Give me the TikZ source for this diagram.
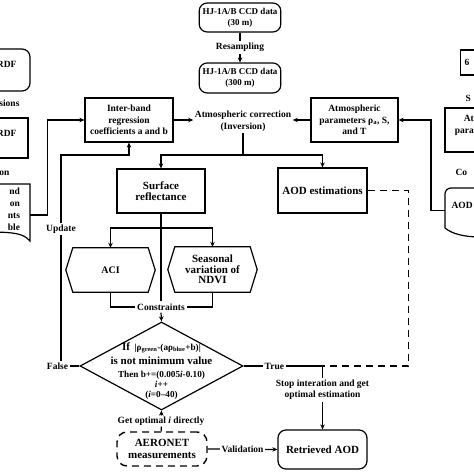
\documentclass[tikz,border=0pt]{standalone}
\usepackage{fontspec}
\setmainfont{Liberation Serif}
\usetikzlibrary{arrows.meta,shapes.geometric}

\tikzset{
  box/.style={draw, line width=1.2pt, align=center, minimum height=44pt},
  rbox/.style={box, rounded corners=8pt},
  big/.style={font=\bfseries\fontsize{11}{11.5}\selectfont},
  lbl/.style={fill=white, inner sep=2pt},
  flow/.style={line width=1.2pt, -{Stealth[length=5pt,width=4.5pt]}},
  plain/.style={line width=1.2pt},
  dashline/.style={line width=1.4pt, dash pattern=on 7pt off 5pt},
}
\newcommand\hexline[1]{\draw[plain] ([xshift=7pt]#1.north west) -- ([xshift=-7pt]#1.north east) -- (#1.east) -- ([xshift=-7pt]#1.south east) -- ([xshift=7pt]#1.south west) -- (#1.west) -- cycle;}

\begin{document}
\begin{tikzpicture}[x=1pt, y=-1pt, font=\bfseries\fontsize{9.5}{11.5}\selectfont]
\useasboundingbox (0,0) rectangle (474,474);
\clip (0,0) rectangle (474,474);

% Main column
\node[rbox, minimum width=79pt, minimum height=29pt, font=\bfseries\fontsize{9}{11}\selectfont] (hj30) at (240,17.5) {HJ-1A/B CCD data\\(30 m)};
\node[rbox, minimum width=79pt, minimum height=30pt, font=\bfseries\fontsize{9}{11}\selectfont] (hj300) at (240,78) {HJ-1A/B CCD data\\(300 m)};
\node[align=center, inner sep=1.5pt, font=\bfseries\fontsize{9.5}{12}\selectfont] (atmcorr) at (243,121) {Atmospheric correction\\(Inversion)};
\node[box, minimum width=88pt] (interband) at (129,120) {Inter-band\\regression\\coefficients a and b};
\node[box, minimum width=87pt] (atmpar) at (354.5,120) {Atmospheric\\parameters ρ\textsubscript{a}, S,\\and T};
\node[box, big, minimum width=88pt] (surf) at (161,191) {Surface\\reflectance};
\node[box, big, minimum width=89pt, minimum height=45pt] (aodest) at (322.5,190.5) {AOD estimations};

% Constraints
\node[minimum width=89pt, minimum height=44pt, font=\bfseries\fontsize{10}{11}\selectfont] (aci) at (110.5,270) {ACI};
\hexline{aci}
\node[big, align=center, minimum width=89pt, minimum height=45pt, font=\bfseries\fontsize{11}{10.5}\selectfont] (ndvi) at (212.5,269.5) {Seasonal\\variation of\\NDVI};
\hexline{ndvi}
\node[lbl] (constr) at (161,307) {Constraints};

% Decision
\node[diamond, draw, line width=1.2pt, minimum width=163pt, minimum height=88pt, inner sep=0pt] (dia) at (161.5,366) {};
\node[align=center, font=\bfseries\fontsize{9.2}{10}\selectfont] (diatxt) at (161.5,371)
  {{\fontsize{11}{11}\selectfont If}\ \ |ρ\textsubscript{green}-(aρ\textsubscript{blue}+b)|\\[3pt]
   {\fontsize{11}{11}\selectfont is not minimum value}\\[3pt]
   Then b+=(0.005\textit{i}-0.10)\\
   \textit{i}++\\
   (\textit{i}=0–40)};
\node[inner sep=1pt] (getopt) at (161,421) {Get optimal \textit{i} directly};
\node[rbox, dashline, big, minimum width=90pt, minimum height=34pt, rounded corners=10pt] (aeronet) at (162,449) {AERONET\\measurements};
\node[rbox, big, minimum width=89pt, minimum height=39pt] (retaod) at (322.5,449.5) {Retrieved AOD};

% Left side (cut off)
\node[rbox, minimum width=100pt, minimum height=42pt] (brdf) at (-20,70) {};
\node[anchor=east] (brdftxt) at (20,64) {RDF};
\node[anchor=east] (exttxt) at (23,103) {sions};
\node[box, minimum width=100pt, minimum height=40pt] (brdfb) at (-22,138) {};
\node[anchor=east] (brdfbtxt) at (20,133) {RDF};
\node[anchor=east] (luttxt) at (13,173) {on};
\node[align=right, text width=80pt, minimum width=100pt, minimum height=50pt, font=\bfseries\fontsize{9.5}{12}\selectfont] (lut) at (-20,209) {nd\\on\\nts\\ble};
\draw[plain] (-70,184) -- (30,184) -- (30,241) .. controls (22,232) and (10,229) .. (-70,236);

% Right side (cut off)
\node[box, minimum width=100pt, minimum height=25pt, anchor=west] (sixs) at (460,62.5) {};
\node[anchor=west] (sixstxt) at (461,62.5) {6};
\node[anchor=west] (stxt) at (462,98) {S};
\node[box, minimum width=90pt] (atmparb) at (490,130) {Atmospheric\\parameters ρ\textsubscript{a}, S,\\and T};
\node[anchor=west] (cotxt) at (452,172) {Co};
\node[minimum width=110pt, minimum height=40pt, anchor=north west, inner sep=0pt] (aodlut) at (445,188) {};
\node[anchor=west] (aodtxt) at (448,205) {AOD};
\draw[plain, rounded corners=6pt] (445,228) -- (445,188) -- (560,188);
\draw[plain] (445,228) .. controls (452,234) and (465,237) .. (480,237);

% Connectors
\draw[flow] (hj30) -- node[lbl]{Resampling} (hj300);
\draw[flow] (interband.east) -- (interband.east -| atmcorr.west);
\draw[flow] (atmpar.west) -- (atmpar.west -| atmcorr.east);
\coordinate (split) at (atmcorr.south |- 0,155);
\draw[plain] (atmcorr.south) -- (split);
\draw[flow] (split) -| (surf.north);
\draw[flow] (split) -| (aodest.north);
\coordinate (branch) at (surf.south |- 0,228);
\draw[plain] (surf.south) -- (constr.north);
\draw[flow] (branch) -| (aci.north);
\draw[flow] (branch) -| (ndvi.north);
\draw[plain] (aci.south) |- (constr.west);
\draw[plain] (ndvi.south) |- (constr.east);
\draw[flow] (constr.south) -- (dia.north);

\coordinate (join) at (retaod.north |- dia.east);
\draw[plain] (dia.east) -- node[lbl, pos=0.39]{True} (join);
\draw[flow] (join) -- node[lbl, pos=0.375, align=center]{Stop interation and get\\optimal estimation} (retaod.north);
\draw[dashline] (aodest.east) -- ++(41,0) |- (join);

\coordinate (upd) at (61,155);
\draw[flow] (dia.west) -- (dia.west -| upd) -- (upd) -| (interband.south);
\node[lbl] (falselbl) at (57.5,366) {False};
\node[lbl] (updlbl) at (61,229) {Update};

\draw[flow] (getopt) -- (dia.south);
\draw[plain] (aeronet) -- (getopt);
\draw[flow] (aeronet.east) -- node[lbl]{Validation} (retaod.west);

\draw[flow] ([yshift=-6pt]lut.east) -- ++(17,0) |- (interband.west);
\draw[flow] ([yshift=-2pt]aodlut.west) -- ++(-14,0) |- (atmpar.east);

\end{tikzpicture}
\end{document}
